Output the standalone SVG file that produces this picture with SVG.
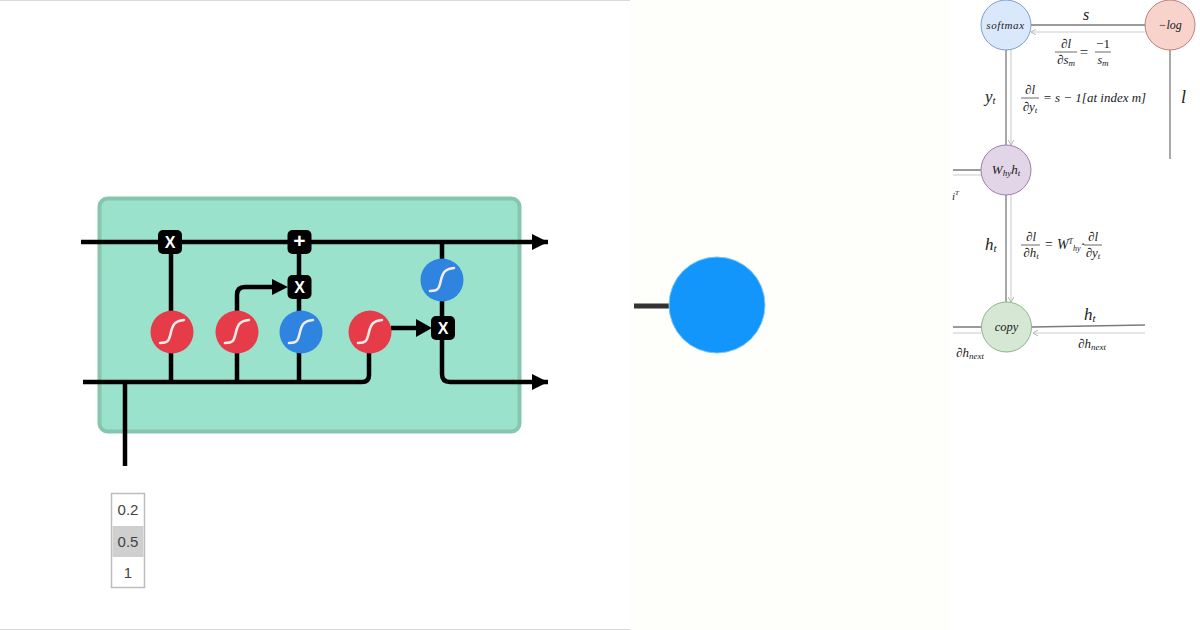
<svg xmlns="http://www.w3.org/2000/svg" width="1200" height="630" viewBox="0 0 1200 630">
<defs>
<marker id="bk" markerUnits="userSpaceOnUse" markerWidth="17" markerHeight="18" refX="16" refY="9" orient="auto"><path d="M0 1L16 9L0 17Z" fill="#000"/></marker>
<marker id="lt" markerUnits="userSpaceOnUse" markerWidth="6" markerHeight="6" refX="5" refY="3" orient="auto"><path d="M0 0L5 3L0 6" fill="none" stroke="#b5b5b5" stroke-width="1"/></marker>
<path id="sig" d="M-12 11C-3 11 -3 8 -1 0C1 -8 3 -11 12 -12" fill="none" stroke="#f1ece6" stroke-width="2.600" stroke-linecap="round"/>
</defs>
<style>
.w{fill:none;stroke:#000;stroke-width:4.500}
.op{fill:#000}
.opt{font:bold 16px "Liberation Sans",sans-serif;fill:#fff;text-anchor:middle}
.g{fill:none;stroke:#7b7b7b;stroke-width:1.300}
.l{fill:none;stroke:#dcdcdc;stroke-width:1.600}
.n{stroke-width:1}
.m{font-family:"Liberation Serif",serif;font-style:italic;fill:#222}
.r{font-family:"Liberation Serif",serif;fill:#222}
.t{font:15px "Liberation Sans",sans-serif;fill:#444;text-anchor:middle}
.f{stroke:#444;stroke-width:.8}
</style>
<rect width="1200" height="630" fill="#fff"/>
<rect x="630" width="320" height="630" fill="#fefefb"/>
<path d="M0 .5H630M0 629.500H630" stroke="#d9d9d9" stroke-width="1"/>

<rect x="99.500" y="198.500" width="420" height="233" rx="8" fill="#9ae2cb" stroke="#86c5ae" stroke-width="4"/>

<g id="connectors-lstm">
<path class="w" d="M81 242H548" marker-end="url(#bk)"/>
<path class="w" d="M83 382H362Q369 382 369 375V332"/>
<path class="w" d="M125 382V466"/>
<path class="w" d="M171 242V382M237 382V295Q237 287 245 287H276"/>
<path d="M272 279L288 287L272 295Z" fill="#000"/>
<path class="w" d="M299 242V382M391 328H420"/>
<path d="M416 319L432 328L416 337Z" fill="#000"/>
<path class="w" d="M442 242V374Q442 382 450 382H548" marker-end="url(#bk)"/>
</g>

<g id="op-x1"><rect class="op" x="158" y="230" width="24" height="24" rx="5"/><text class="opt" x="170" y="247.500">X</text></g>
<g id="op-plus"><rect class="op" x="287.500" y="230" width="24" height="24" rx="5"/><text class="opt" x="299.500" y="248" style="font-size:21px">+</text></g>
<g id="op-x2"><rect class="op" x="287.500" y="275" width="24" height="24" rx="5"/><text class="opt" x="299.500" y="292.500">X</text></g>
<g id="op-x3"><rect class="op" x="431" y="316" width="24" height="24" rx="5"/><text class="opt" x="443" y="333.500">X</text></g>

<g id="sigmoid-1"><circle cx="172" cy="332" r="21.500" fill="#e63c49"/><use href="#sig" x="172" y="332"/></g>
<g id="sigmoid-2"><circle cx="237" cy="332" r="21.500" fill="#e63c49"/><use href="#sig" x="237" y="332"/></g>
<g id="tanh-1"><circle cx="301" cy="332" r="21.500" fill="#2f84df"/><use href="#sig" x="301" y="332"/></g>
<g id="sigmoid-3"><circle cx="370" cy="332" r="21.500" fill="#e63c49"/><use href="#sig" x="370" y="332"/></g>
<g id="tanh-2"><circle cx="442" cy="280" r="21.500" fill="#2f84df"/><use href="#sig" x="442" y="280"/></g>

<g id="table">
<rect x="111.500" y="493.500" width="33" height="94" fill="#fff" stroke="#bdbdbd" stroke-width="1.500"/>
<rect x="112.500" y="526" width="31" height="31" fill="#cfcfcf"/>
<text class="t" x="128" y="515">0.2</text>
<text class="t" x="128" y="547">0.5</text>
<text class="t" x="128" y="578">1</text>
</g>

<g id="connector-dot"><path d="M634 306H670" stroke="#333" stroke-width="5"/></g>
<g id="blue-node"><circle cx="717" cy="305" r="48" fill="#1296fb" stroke="#7cc6f5" stroke-width="1"/></g>

<g id="connectors-graph">
<path class="g" d="M1031 25H1145M1006 50V145M1170 50V159M1006 195V302M953 170H981M953 327H981M1032 327L1145 325"/>
<path class="l" d="M1145 32H1031" marker-end="url(#lt)"/>
<path class="l" d="M1011 50V145" marker-end="url(#lt)"/>
<path class="l" d="M1011 195V302" marker-end="url(#lt)"/>
<path class="l" d="M953 175H981M953 333H981"/>
<path class="l" d="M1145 333H1033" marker-end="url(#lt)"/>
</g>

<g id="softmax"><circle class="n" cx="1006" cy="25" r="25" fill="#dae8fc" stroke="#7f9fc4"/><text class="m" x="1005.500" y="29" font-size="11" letter-spacing=".6" text-anchor="middle">softmax</text></g>
<g id="neglog"><circle class="n" cx="1170" cy="25" r="25" fill="#f8d3cc" stroke="#bd7f78"/><text class="m" x="1170" y="29" font-size="12" text-anchor="middle">−log</text></g>
<g id="wh"><circle class="n" cx="1006" cy="170" r="25" fill="#e1d5e7" stroke="#9a80a8"/><text class="m" x="1006" y="174" font-size="13" text-anchor="middle">W<tspan font-size="9" dy="2">hy</tspan><tspan dy="-2">h</tspan><tspan font-size="9" dy="2">t</tspan></text></g>
<g id="copy"><circle class="n" cx="1006.500" cy="327" r="25" fill="#d5e8d4" stroke="#8fb38c"/><text class="m" x="1006.500" y="331" font-size="12.500" text-anchor="middle">copy</text></g>

<g id="labels">
<text class="m" x="1086" y="20" font-size="16" text-anchor="middle">s</text>
<text class="m" x="1066" y="48" font-size="13" text-anchor="middle">∂l</text><path class="f" d="M1055 52H1077"/><text class="m" x="1066" y="64" font-size="13" text-anchor="middle">∂s<tspan font-size="9" dy="2">m</tspan></text>
<text class="r" x="1084" y="57" font-size="15" text-anchor="middle">=</text>
<text class="r" x="1103" y="48" font-size="13" text-anchor="middle">−1</text><path class="f" d="M1095 52H1111"/><text class="m" x="1103" y="64" font-size="12" text-anchor="middle">s<tspan font-size="9" dy="2">m</tspan></text>

<text class="m" x="985" y="102" font-size="17">y<tspan font-size="11" dy="2">t</tspan></text>
<text class="m" x="1030" y="94" font-size="13" text-anchor="middle">∂l</text><path class="f" d="M1021 98H1039"/><text class="m" x="1030" y="111" font-size="13" text-anchor="middle">∂y<tspan font-size="9" dy="2">t</tspan></text>
<text class="m" x="1043" y="102" font-size="13">= s  − 1[at index m]</text>
<text class="m" x="1181" y="103" font-size="18">l</text>

<text class="m" x="985" y="250" font-size="17">h<tspan font-size="11" dy="2">t</tspan></text>
<text class="m" x="1031" y="241" font-size="13" text-anchor="middle">∂l</text><path class="f" d="M1021 245H1040"/><text class="m" x="1031" y="257" font-size="13" text-anchor="middle">∂h<tspan font-size="9" dy="2">t</tspan></text>
<text class="m" x="1044" y="249" font-size="14">= W<tspan font-size="8" dy="-5">T</tspan><tspan font-size="8" dy="7">hy</tspan><tspan class="r" font-style="normal" dy="-2">·</tspan></text>
<text class="m" x="1093" y="241" font-size="13" text-anchor="middle">∂l</text><path class="f" d="M1084 245H1102"/><text class="m" x="1093" y="257" font-size="13" text-anchor="middle">∂y<tspan font-size="9" dy="2">t</tspan></text>

<text class="m" x="952" y="200" font-size="11">i<tspan font-size="7" dy="-5">T</tspan></text>
<text class="m" x="1084" y="320" font-size="17">h<tspan font-size="11" dy="2">t</tspan></text>
<text class="m" x="1078" y="348" font-size="13">∂h<tspan font-size="9" dy="2">next</tspan></text>
<text class="m" x="956" y="357" font-size="13">∂h<tspan font-size="9" dy="2">next</tspan></text>
</g>
</svg>
